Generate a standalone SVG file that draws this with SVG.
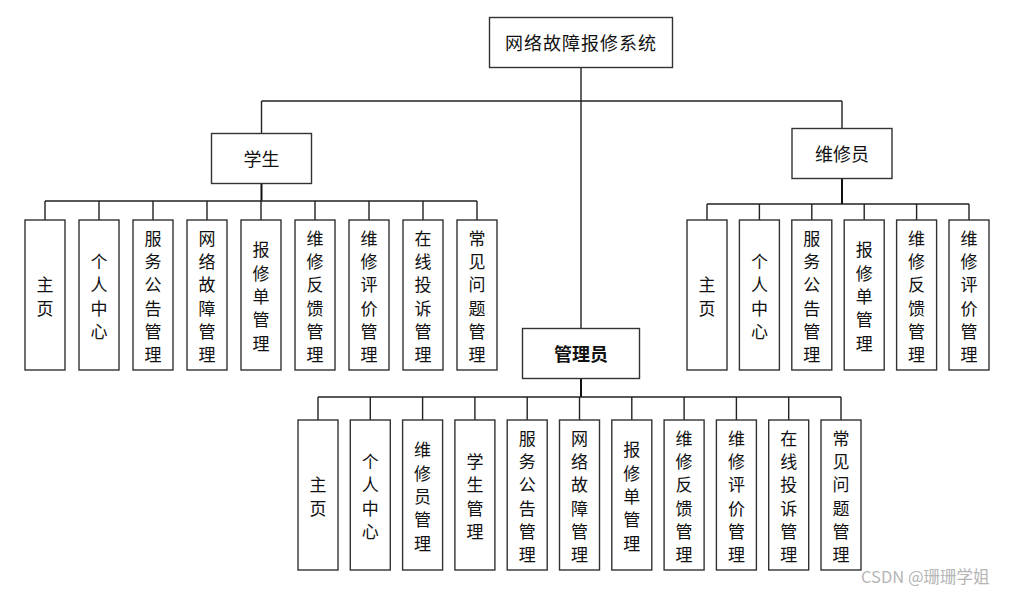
<svg xmlns="http://www.w3.org/2000/svg" width="1011" height="595" viewBox="0 0 1011 595">
<style>
.box{fill:#fff;stroke:#333;stroke-width:1.4}
.ln{fill:none;stroke:#222;stroke-width:1.4}
.stub{fill:none;stroke:#111;stroke-width:2}
.t{font-family:"Noto Sans CJK SC","Noto Sans",sans-serif;font-size:17px;fill:#111;text-anchor:middle;dominant-baseline:central}
.h{font-size:18px}
.b{font-weight:bold}
.wm{font-family:"Noto Sans CJK SC","Noto Sans",sans-serif;font-size:16.5px;fill:#b5b5b5}
</style>
<rect width="1011" height="595" fill="#fff"/>
<g id="connectors">
<path class="ln" d="M581,67V328M261.5,101H842M261.5,101V133M842,101V128"/>
<path class="stub" d="M261.5,183V201M842,178V204M581,378V397"/>
<path class="ln" d="M45,201H477M45,201V220M99,201V220M153,201V220M207,201V220M261,201V220M315,201V220M369,201V220M423,201V220M477,201V220"/>
<path class="ln" d="M707,204H969M707,204V220M759.4,204V220M811.8,204V220M864.2,204V220M916.6,204V220M969,204V220"/>
<path class="ln" d="M318,397H841M318,397V420M370.3,397V420M422.6,397V420M474.9,397V420M527.2,397V420M579.5,397V420M631.8,397V420M684.1,397V420M736.4,397V420M788.7,397V420M841,397V420"/>
</g>
<g id="root"><rect class="box" x="489.5" y="17.5" width="183" height="50"/><text class="t h" x="581" y="42" letter-spacing="1">网络故障报修系统</text></g>
<g id="student"><rect class="box" x="211.5" y="133.5" width="100" height="50"/><text class="t h" x="261.5" y="158">学生</text></g>
<g id="maintainer"><rect class="box" x="792" y="128.5" width="100" height="50"/><text class="t h" x="842" y="153">维修员</text></g>
<g id="admin"><rect class="box" x="522.5" y="328.5" width="117" height="50"/><text class="t h b" x="581" y="353">管理员</text></g>

<g id="s1"><rect class="box" x="25" y="220" width="40" height="150"/><text class="t" x="45" y="283.35"><tspan x="45">主</tspan><tspan x="45" dy="23.3">页</tspan></text></g>
<g id="s2"><rect class="box" x="79" y="220" width="40" height="150"/><text class="t" x="99" y="260.05"><tspan x="99">个</tspan><tspan x="99" dy="23.3">人</tspan><tspan x="99" dy="23.3">中</tspan><tspan x="99" dy="23.3">心</tspan></text></g>
<g id="s3"><rect class="box" x="133" y="220" width="40" height="150"/><text class="t" x="153" y="236.75"><tspan x="153">服</tspan><tspan x="153" dy="23.3">务</tspan><tspan x="153" dy="23.3">公</tspan><tspan x="153" dy="23.3">告</tspan><tspan x="153" dy="23.3">管</tspan><tspan x="153" dy="23.3">理</tspan></text></g>
<g id="s4"><rect class="box" x="187" y="220" width="40" height="150"/><text class="t" x="207" y="236.75"><tspan x="207">网</tspan><tspan x="207" dy="23.3">络</tspan><tspan x="207" dy="23.3">故</tspan><tspan x="207" dy="23.3">障</tspan><tspan x="207" dy="23.3">管</tspan><tspan x="207" dy="23.3">理</tspan></text></g>
<g id="s5"><rect class="box" x="241" y="220" width="40" height="150"/><text class="t" x="261" y="248.4"><tspan x="261">报</tspan><tspan x="261" dy="23.3">修</tspan><tspan x="261" dy="23.3">单</tspan><tspan x="261" dy="23.3">管</tspan><tspan x="261" dy="23.3">理</tspan></text></g>
<g id="s6"><rect class="box" x="295" y="220" width="40" height="150"/><text class="t" x="315" y="236.75"><tspan x="315">维</tspan><tspan x="315" dy="23.3">修</tspan><tspan x="315" dy="23.3">反</tspan><tspan x="315" dy="23.3">馈</tspan><tspan x="315" dy="23.3">管</tspan><tspan x="315" dy="23.3">理</tspan></text></g>
<g id="s7"><rect class="box" x="349" y="220" width="40" height="150"/><text class="t" x="369" y="236.75"><tspan x="369">维</tspan><tspan x="369" dy="23.3">修</tspan><tspan x="369" dy="23.3">评</tspan><tspan x="369" dy="23.3">价</tspan><tspan x="369" dy="23.3">管</tspan><tspan x="369" dy="23.3">理</tspan></text></g>
<g id="s8"><rect class="box" x="403" y="220" width="40" height="150"/><text class="t" x="423" y="236.75"><tspan x="423">在</tspan><tspan x="423" dy="23.3">线</tspan><tspan x="423" dy="23.3">投</tspan><tspan x="423" dy="23.3">诉</tspan><tspan x="423" dy="23.3">管</tspan><tspan x="423" dy="23.3">理</tspan></text></g>
<g id="s9"><rect class="box" x="457" y="220" width="40" height="150"/><text class="t" x="477" y="236.75"><tspan x="477">常</tspan><tspan x="477" dy="23.3">见</tspan><tspan x="477" dy="23.3">问</tspan><tspan x="477" dy="23.3">题</tspan><tspan x="477" dy="23.3">管</tspan><tspan x="477" dy="23.3">理</tspan></text></g>

<g id="m1"><rect class="box" x="687" y="220" width="40" height="150"/><text class="t" x="707" y="283.35"><tspan x="707">主</tspan><tspan x="707" dy="23.3">页</tspan></text></g>
<g id="m2"><rect class="box" x="739.4" y="220" width="40" height="150"/><text class="t" x="759.4" y="260.05"><tspan x="759.4">个</tspan><tspan x="759.4" dy="23.3">人</tspan><tspan x="759.4" dy="23.3">中</tspan><tspan x="759.4" dy="23.3">心</tspan></text></g>
<g id="m3"><rect class="box" x="791.8" y="220" width="40" height="150"/><text class="t" x="811.8" y="236.75"><tspan x="811.8">服</tspan><tspan x="811.8" dy="23.3">务</tspan><tspan x="811.8" dy="23.3">公</tspan><tspan x="811.8" dy="23.3">告</tspan><tspan x="811.8" dy="23.3">管</tspan><tspan x="811.8" dy="23.3">理</tspan></text></g>
<g id="m4"><rect class="box" x="844.2" y="220" width="40" height="150"/><text class="t" x="864.2" y="248.4"><tspan x="864.2">报</tspan><tspan x="864.2" dy="23.3">修</tspan><tspan x="864.2" dy="23.3">单</tspan><tspan x="864.2" dy="23.3">管</tspan><tspan x="864.2" dy="23.3">理</tspan></text></g>
<g id="m5"><rect class="box" x="896.6" y="220" width="40" height="150"/><text class="t" x="916.6" y="236.75"><tspan x="916.6">维</tspan><tspan x="916.6" dy="23.3">修</tspan><tspan x="916.6" dy="23.3">反</tspan><tspan x="916.6" dy="23.3">馈</tspan><tspan x="916.6" dy="23.3">管</tspan><tspan x="916.6" dy="23.3">理</tspan></text></g>
<g id="m6"><rect class="box" x="949" y="220" width="40" height="150"/><text class="t" x="969" y="236.75"><tspan x="969">维</tspan><tspan x="969" dy="23.3">修</tspan><tspan x="969" dy="23.3">评</tspan><tspan x="969" dy="23.3">价</tspan><tspan x="969" dy="23.3">管</tspan><tspan x="969" dy="23.3">理</tspan></text></g>

<g id="a1"><rect class="box" x="298" y="420" width="40" height="150"/><text class="t" x="318" y="483.35"><tspan x="318">主</tspan><tspan x="318" dy="23.3">页</tspan></text></g>
<g id="a2"><rect class="box" x="350.3" y="420" width="40" height="150"/><text class="t" x="370.3" y="460.05"><tspan x="370.3">个</tspan><tspan x="370.3" dy="23.3">人</tspan><tspan x="370.3" dy="23.3">中</tspan><tspan x="370.3" dy="23.3">心</tspan></text></g>
<g id="a3"><rect class="box" x="402.6" y="420" width="40" height="150"/><text class="t" x="422.6" y="448.4"><tspan x="422.6">维</tspan><tspan x="422.6" dy="23.3">修</tspan><tspan x="422.6" dy="23.3">员</tspan><tspan x="422.6" dy="23.3">管</tspan><tspan x="422.6" dy="23.3">理</tspan></text></g>
<g id="a4"><rect class="box" x="454.9" y="420" width="40" height="150"/><text class="t" x="474.9" y="460.05"><tspan x="474.9">学</tspan><tspan x="474.9" dy="23.3">生</tspan><tspan x="474.9" dy="23.3">管</tspan><tspan x="474.9" dy="23.3">理</tspan></text></g>
<g id="a5"><rect class="box" x="507.2" y="420" width="40" height="150"/><text class="t" x="527.2" y="436.75"><tspan x="527.2">服</tspan><tspan x="527.2" dy="23.3">务</tspan><tspan x="527.2" dy="23.3">公</tspan><tspan x="527.2" dy="23.3">告</tspan><tspan x="527.2" dy="23.3">管</tspan><tspan x="527.2" dy="23.3">理</tspan></text></g>
<g id="a6"><rect class="box" x="559.5" y="420" width="40" height="150"/><text class="t" x="579.5" y="436.75"><tspan x="579.5">网</tspan><tspan x="579.5" dy="23.3">络</tspan><tspan x="579.5" dy="23.3">故</tspan><tspan x="579.5" dy="23.3">障</tspan><tspan x="579.5" dy="23.3">管</tspan><tspan x="579.5" dy="23.3">理</tspan></text></g>
<g id="a7"><rect class="box" x="611.8" y="420" width="40" height="150"/><text class="t" x="631.8" y="448.4"><tspan x="631.8">报</tspan><tspan x="631.8" dy="23.3">修</tspan><tspan x="631.8" dy="23.3">单</tspan><tspan x="631.8" dy="23.3">管</tspan><tspan x="631.8" dy="23.3">理</tspan></text></g>
<g id="a8"><rect class="box" x="664.1" y="420" width="40" height="150"/><text class="t" x="684.1" y="436.75"><tspan x="684.1">维</tspan><tspan x="684.1" dy="23.3">修</tspan><tspan x="684.1" dy="23.3">反</tspan><tspan x="684.1" dy="23.3">馈</tspan><tspan x="684.1" dy="23.3">管</tspan><tspan x="684.1" dy="23.3">理</tspan></text></g>
<g id="a9"><rect class="box" x="716.4" y="420" width="40" height="150"/><text class="t" x="736.4" y="436.75"><tspan x="736.4">维</tspan><tspan x="736.4" dy="23.3">修</tspan><tspan x="736.4" dy="23.3">评</tspan><tspan x="736.4" dy="23.3">价</tspan><tspan x="736.4" dy="23.3">管</tspan><tspan x="736.4" dy="23.3">理</tspan></text></g>
<g id="a10"><rect class="box" x="768.7" y="420" width="40" height="150"/><text class="t" x="788.7" y="436.75"><tspan x="788.7">在</tspan><tspan x="788.7" dy="23.3">线</tspan><tspan x="788.7" dy="23.3">投</tspan><tspan x="788.7" dy="23.3">诉</tspan><tspan x="788.7" dy="23.3">管</tspan><tspan x="788.7" dy="23.3">理</tspan></text></g>
<g id="a11"><rect class="box" x="821" y="420" width="40" height="150"/><text class="t" x="841" y="436.75"><tspan x="841">常</tspan><tspan x="841" dy="23.3">见</tspan><tspan x="841" dy="23.3">问</tspan><tspan x="841" dy="23.3">题</tspan><tspan x="841" dy="23.3">管</tspan><tspan x="841" dy="23.3">理</tspan></text></g>

<text class="wm" x="861" y="583">CSDN @珊珊学姐</text>
</svg>
